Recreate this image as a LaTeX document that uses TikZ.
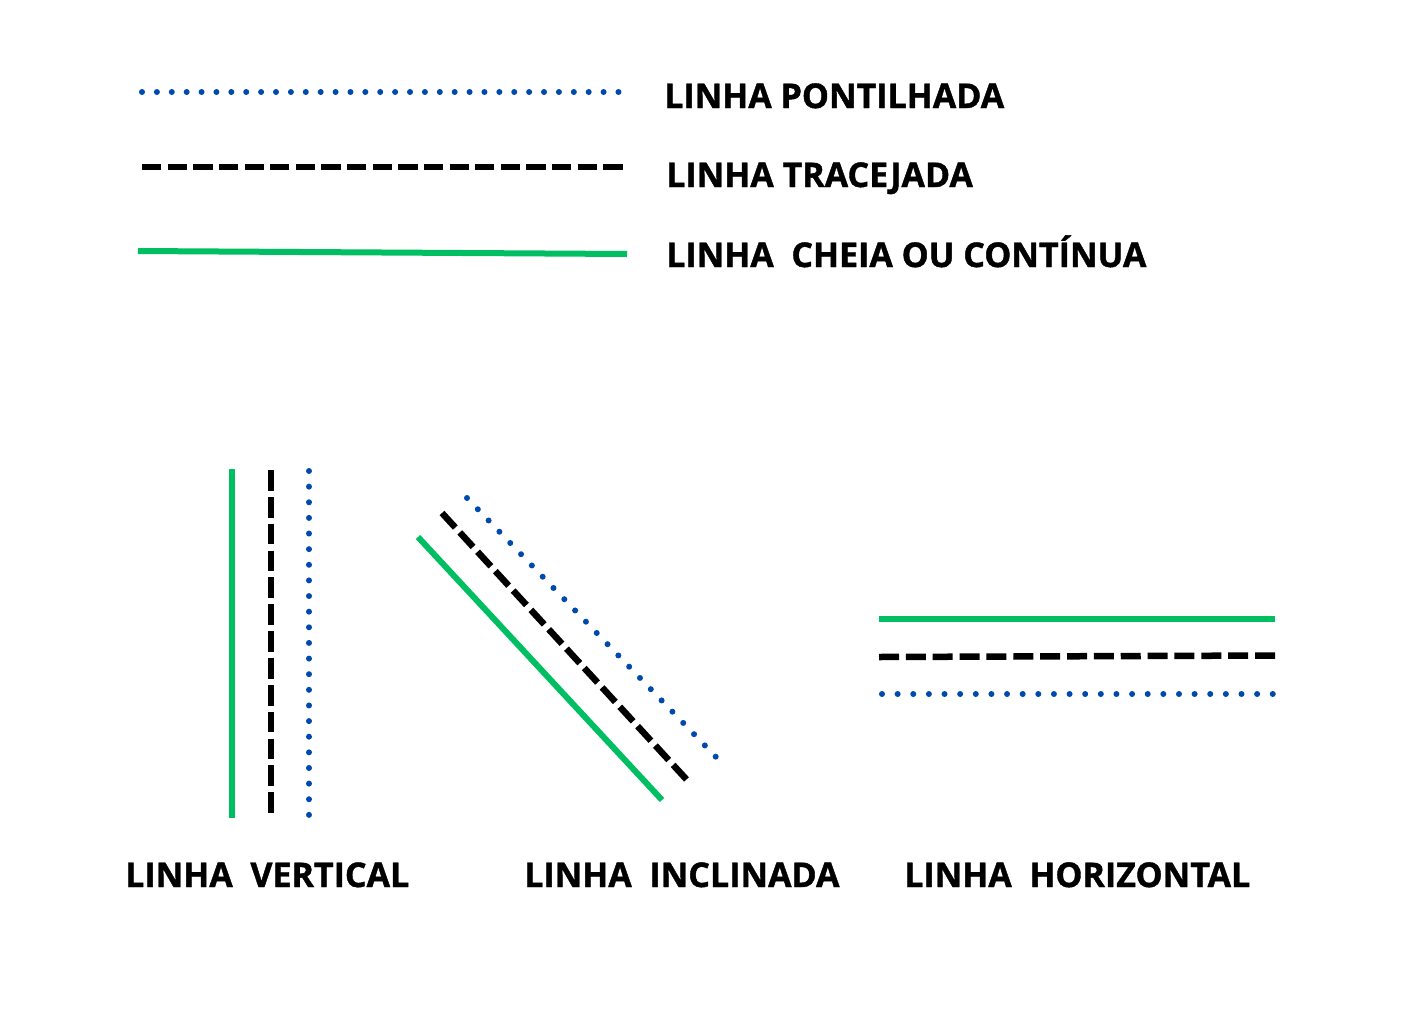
\documentclass[tikz,border=0pt]{standalone}
\usepackage{fontspec}
\setmainfont{Open Sans}[BoldFeatures={FakeBold=1.2}]
\definecolor{lblue}{HTML}{004AAD}
\definecolor{lgreen}{HTML}{00BF63}
\begin{document}
\begin{tikzpicture}[x=1pt,y=-1pt,
  solidline/.style={draw=lgreen,line width=6pt},
  dashline/.style={draw=black,line width=6.5pt},
  dotline/.style={draw=lblue,line width=6pt,line cap=round},
  lbl/.style={inner sep=0pt,anchor=base west,font=\fontsize{34}{40}\selectfont\bfseries}]
\fill[white] (0,0) rectangle (1401,1018);
\useasboundingbox (0,0) rectangle (1401,1018);
% legend
\coordinate (ldA) at (142,92);   \coordinate (ldB) at (619,92);
\coordinate (lsA) at (142,167);  \coordinate (lsB) at (622.7,167);
\coordinate (lgA) at (138,251);  \coordinate (lgB) at (627,254);
\draw[dotline,dash pattern=on 0pt off 14.89pt] (ldA) -- (ldB);
\draw[dashline,dash pattern=on 19.3pt off 6.33pt] (lsA) -- (lsB);
\draw[solidline] (lgA) -- (lgB);
\node[lbl] (t1) at (664,108) {LINHA PONTILHADA};
\node[lbl] (t2) at (666,187) {LINHA TRACEJADA};
\node[lbl] (t3) at (666,267) {LINHA\ \ CHEIA OU CONTÍNUA};
% vertical
\coordinate (vgA) at (232,469); \coordinate (vgB) at (232,818);
\coordinate (vsA) at (271,470); \coordinate (vsB) at (271,813);
\coordinate (vdA) at (309,471); \coordinate (vdB) at (309,815);
\draw[solidline] (vgA) -- (vgB);
\draw[dashline,dash pattern=on 20.7pt off 6.16pt] (vsA) -- (vsB);
\draw[dotline,dash pattern=on 0pt off 15.63pt] (vdA) -- (vdB);
% inclined
\coordinate (igA) at (418,537); \coordinate (igB) at (662,800);
\coordinate (isA) at (442,513); \coordinate (isB) at (687,780);
\coordinate (idA) at (467,498); \coordinate (idB) at (716,757);
\draw[solidline] (igA) -- (igB);
\draw[dashline,dash pattern=on 19.7pt off 6.6pt] (isA) -- (isB);
\draw[dotline,dash pattern=on 0pt off 15.6pt] (idA) -- (idB);
% horizontal
\coordinate (hgA) at (879,619); \coordinate (hgB) at (1275,619);
\coordinate (hsA) at (879,657); \coordinate (hsB) at (1275,655.5);
\coordinate (hdA) at (882,694); \coordinate (hdB) at (1273,694);
\draw[solidline] (hgA) -- (hgB);
\draw[dashline,dash pattern=on 20pt off 6.86pt] (hsA) -- (hsB);
\draw[dotline,dash pattern=on 0pt off 15.63pt] (hdA) -- (hdB);
% bottom labels
\node[lbl] (b1) at (125,887) {LINHA\ \ VERTICAL};
\node[lbl] (b2) at (524,887) {LINHA\ \ INCLINADA};
\node[lbl] (b3) at (904,887) {LINHA\ \ HORIZONTAL};
\end{tikzpicture}
\end{document}
